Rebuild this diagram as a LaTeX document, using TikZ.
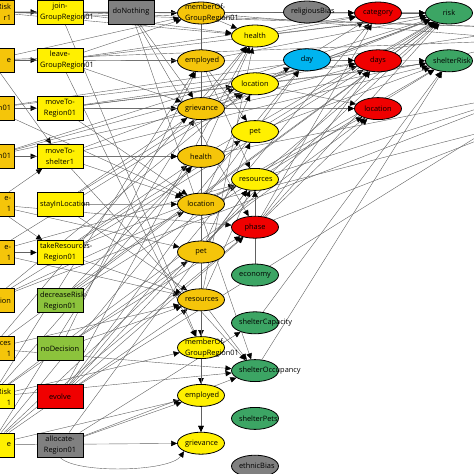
\documentclass[tikz,border=0pt]{standalone}
\usepackage{fontspec}
\setmainfont{Open Sans}
\usetikzlibrary{shapes.geometric,arrows.meta,positioning}
\definecolor{goldN}{RGB}{245,197,10}
\definecolor{yellowN}{RGB}{255,240,0}
\definecolor{redN}{RGB}{240,0,0}
\definecolor{seaN}{RGB}{60,165,100}
\definecolor{limeN}{RGB}{140,195,60}
\definecolor{grayN}{RGB}{128,128,128}
\definecolor{blueN}{RGB}{0,180,240}
\newcommand\lblfont{\fontsize{7.4}{11}\selectfont\exhyphenpenalty=10000\relax\hyphenpenalty=10000\relax}
\pgfdeclarelayer{bg}
\pgfsetlayers{bg,main}

\begin{document}
\begin{tikzpicture}[x=1pt, y=-1pt, node distance=25pt,
  box/.style={draw, line width=0.8pt, rectangle, minimum width=46pt, minimum height=24pt,
    inner xsep=3pt, inner ysep=1pt, text width=40pt, align=center, font=\lblfont},
  cut/.style={box, align=right},
  oval/.style={draw, line width=0.8pt, ellipse, minimum width=47pt, minimum height=22pt,
    inner sep=0pt, text width=32pt, align=center, font=\lblfont},
  twoline/.style={inner ysep=-2.5pt},
  arr/.style={draw=black!62, line width=0.4pt, -{Triangle[length=6pt, width=5.5pt, black]}}]
 \useasboundingbox (0,0) rectangle (474,474);
 \clip (0,0) rectangle (474,474);
 % decisions of the earlier slice, cut off at the left edge
 \node[cut, fill=goldN] (p0) at (-9,12) {Risk\\r1};
 \node[cut, fill=goldN, below=23.3pt of p0] (p1) {e};
 \node[cut, fill=goldN, below=23.3pt of p1] (p2) {ion01};
 \node[cut, fill=goldN, below=23.3pt of p2] (p3) {ion01};
 \node[cut, fill=goldN, below=23.3pt of p3] (p4) {e-\\1};
 \node[cut, fill=goldN, below=23.3pt of p4] (p5) {e-\\1};
 \node[cut, fill=goldN, below=23.3pt of p5] (p6) {ation};
 \node[cut, fill=goldN, below=23.3pt of p6] (p7) {urces\\1};
 \node[cut, fill=yellowN, below=23.3pt of p7] (p8) {Risk\\1};
 \node[cut, fill=yellowN, below=23.3pt of p8] (p9) {e};
 % decisions
 \node[box, fill=yellowN] (join) at (60,12) {join-\\GroupRegion01};
 \node[box, fill=yellowN, below=23.3pt of join] (leave) {leave-\\GroupRegion01};
 \node[box, fill=yellowN, below=23.3pt of leave] (moveReg) {moveTo-\\Region01};
 \node[box, fill=yellowN, below=23.3pt of moveReg] (moveShel) {moveTo-\\shelter1};
 \node[box, fill=yellowN, below=23.3pt of moveShel] (stay) {stayInLocation};
 \node[box, fill=yellowN, below=23.3pt of stay] (take) {takeResources-\\Region01};
 \node[box, fill=limeN, below=23.3pt of take] (decr) {decreaseRisk-\\Region01};
 \node[box, fill=limeN, below=23.3pt of decr] (noDec) {noDecision};
 \node[box, fill=redN, below=23.3pt of noDec] (evolve) {evolve};
 \node[box, fill=grayN, below=23.3pt of evolve] (alloc) {allocate-\\Region01};
 \node[box, fill=grayN] (doNothing) at (131,12) {doNothing};
 % agent state
 \node[oval, twoline, fill=goldN] (memA) at (201,13) {memberOf-\\GroupRegion01};
 \node[oval, fill=goldN, below=of memA] (empA) {employed};
 \node[oval, fill=goldN, below=of empA] (grvA) {grievance};
 \node[oval, fill=goldN, below=of grvA] (hltA) {health};
 \node[oval, fill=goldN, below=of hltA] (locA) {location};
 \node[oval, fill=goldN, below=of locA] (petA) {pet};
 \node[oval, fill=goldN, below=of petA] (resA) {resources};
 \node[oval, twoline, fill=yellowN, below=of resA] (memB) {memberOf-\\GroupRegion01};
 \node[oval, fill=yellowN, below=of memB] (empB) {employed};
 \node[oval, fill=yellowN, below=of empB] (grvB) {grievance};
 \node[oval, fill=yellowN] (hltB) at (255,36) {health};
 \node[oval, fill=yellowN, below=of hltB] (locB) {location};
 \node[oval, fill=yellowN, below=of locB] (petB) {pet};
 \node[oval, fill=yellowN, below=of petB] (resB) {resources};
 \node[oval, fill=redN, below=of resB] (phase) {phase};
 \node[oval, fill=seaN, below=of phase] (economy) {economy};
 \node[oval, fill=seaN, below=of economy] (shCap) {shelterCapacity};
 \node[oval, fill=seaN, below=of shCap] (shOcc) {shelterOccupancy};
 \node[oval, fill=seaN, below=of shOcc] (shPets) {shelterPets};
 \node[oval, fill=grayN, below=of shPets] (ethnic) {ethnicBias};
 % world state
 \node[oval, fill=grayN] (relig) at (307,12) {religiousBias};
 \node[oval, fill=blueN, below=of relig] (day) {day};
 \node[oval, fill=redN] (category) at (378,13) {category};
 \node[oval, fill=redN, below=of category] (days) {days};
 \node[oval, fill=redN, below=of days] (locC) {location};
 \node[oval, fill=seaN] (risk) at (449,13) {risk};
 \node[oval, fill=seaN, below=of risk] (shRisk) {shelterRisk};
 \coordinate (outA) at (530,28);
 \coordinate (outB) at (530,40);
 \coordinate (outC) at (530,92);
 \coordinate (outD) at (600,60);
 \coordinate (outE) at (530,120);
 \begin{pgfonlayer}{bg}
  \clip (0,0) rectangle (474,474);
  \draw[arr] (p0) edge (join) edge (memA) edge (hltB) edge (risk) edge (category) edge (outA)
   (p1) edge (leave) edge (moveShel) edge (memA) edge (empA) edge (shRisk) edge (outB)
   (p2) edge (moveReg) edge (locA) edge (days) edge (locC) edge (outA)
   (p3) edge (moveShel) edge (hltA) edge (locB) edge (risk) edge (outB)
   (p4) edge (take) edge (moveShel) edge (petA) edge (phase)
   (p5) edge (take) edge (resA) edge (resB) edge (category)
   (p6) edge (locA) edge (locB) edge (days) edge (outC)
   (p7) edge (resA) edge (shOcc) edge (hltB) edge (risk)
   (p8) edge (memB) edge (empA) edge (hltA) edge (petA) edge (shOcc) edge (locC)
   (p9) edge (empB) edge (grvA) edge (resA) edge (grvB) edge (phase) edge (day) edge (risk);
  \draw[arr] (join) edge (memA) edge (memB) edge (hltB) edge (risk) edge (outA) edge (category)
   (leave) edge (memA) edge (memB) edge (grvA) edge (risk) edge (category)
   (moveReg) edge (locA) edge (locB) edge (grvA) edge (locC) edge (shRisk) edge (days)
   (moveShel) edge (locA) edge (shOcc) edge (hltA) edge (shRisk) edge (risk)
   (stay) edge (locA) edge (grvA) edge (resA) edge (locB)
   (take) edge (resA) edge (resB) edge (hltA) edge (petB)
   (decr) edge (risk) edge (shRisk) edge (hltA)
   (noDec) edge (empA) edge (resA) edge (phase)
   (evolve) edge (phase) edge (days) edge (day) edge (category) edge (outD) edge (hltB)
   (alloc) edge (shOcc) edge (shCap) edge (empB) edge (resB)
   (doNothing) edge (shOcc) edge (phase) edge (grvA);
  \draw[arr] (alloc.south) .. controls (75,474) and (170,472) .. (grvB.south west);
  \draw[arr] (memA) edge (memB) edge (hltB) edge (outB)
   (empA) edge (empB) edge (resB) edge (petB) edge (risk)
   (grvA) edge (grvB) edge (hltB) edge (risk) edge (days)
   (hltA) edge (hltB) edge (risk) edge (grvB) edge (outC)
   (locA) edge (locB) edge (locC) edge (shRisk) edge (outE)
   (petA) edge (petB) edge (resB)
   (resA) edge (resB) edge (shOcc) edge (hltB);
  \draw[arr] (hltB) edge (risk) edge (category)
   (locB) edge (locC) edge (day) edge (risk) edge (shRisk)
   (petB) edge (shRisk) edge (risk)
   (resB) edge (risk) edge (outC)
   (phase) edge (risk) edge (days) edge (category) edge (locC) edge (outE)
   (economy) edge (resB)
   (shCap) edge (shRisk)
   (shOcc) edge (shRisk)
   (day) edge (days)
   (days) edge (risk)
   (category) edge (risk);
 \end{pgfonlayer}
\end{tikzpicture}
\end{document}
